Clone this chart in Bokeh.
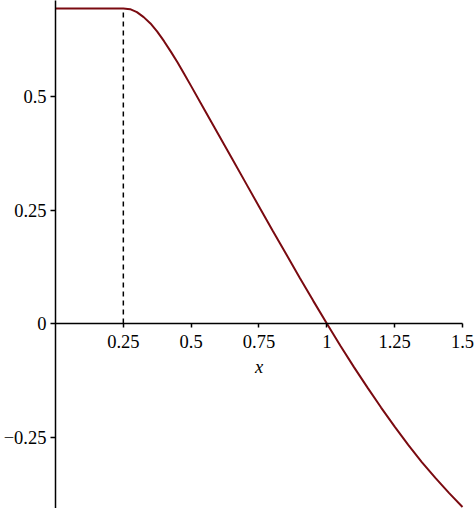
from bokeh.plotting import figure
from bokeh.models import Range1d, FixedTicker
from bokeh.embed import file_html
from bokeh.resources import INLINE

# curve values
x_vals = [0.0, 0.25, 0.275, 0.30, 0.325, 0.35, 0.375, 0.40, 0.425, 0.45, 0.475, 0.50,
          0.55, 0.60, 0.65, 0.70, 0.75, 0.80, 0.85, 0.90, 0.95, 1.00,
          1.05, 1.10, 1.15, 1.20, 1.25, 1.30, 1.35, 1.40, 1.45, 1.50]
y_vals = [0.694, 0.694, 0.6925, 0.686, 0.675, 0.661, 0.643, 0.622, 0.599, 0.575, 0.549, 0.523,
          0.470, 0.417, 0.364, 0.311, 0.258, 0.205, 0.153, 0.101, 0.050, 0.0,
          -0.049, -0.096, -0.141, -0.185, -0.227, -0.267, -0.305, -0.340, -0.373, -0.404]

# dashed marker at x = 0.25
dash_x = [0.25]
dash_y0 = [0.0]
dash_y1 = [0.694]

x_ticks = [0.25, 0.5, 0.75, 1, 1.25, 1.5]
x_tick_labels = ["0.25", "0.5", "0.75", "1", "1.25", "1.5"]
y_ticks = [-0.25, 0, 0.25, 0.5]
y_tick_labels = ["\u22120.25", "0", "0.25", "0.5"]

# 1.5 sits at px 462, frame runs to 474 so the last tick label is not clipped
p = figure(width=474, height=508, output_backend="svg", toolbar_location=None,
           x_range=Range1d(0, 419 / 271.33), y_range=Range1d(0.7116 - 508 / 454, 0.7116),
           min_border_left=55, min_border_right=0, min_border_top=0, min_border_bottom=0,
           x_axis_label="x")
p.outline_line_color = None
p.grid.visible = False

p.line(x_vals, y_vals, line_color="#7a0a10", line_width=2)
p.segment(dash_x, dash_y0, dash_x, dash_y1, line_color="black", line_width=1.5,
          line_dash="5 4")

for ax in (p.xaxis[0], p.yaxis[0]):
    ax.axis_line_color = "black"
    ax.axis_line_width = 1.5
    ax.major_tick_line_color = "black"
    ax.major_tick_line_width = 1.5
    ax.major_tick_in = 0
    ax.minor_tick_line_color = None
    ax.major_label_text_font = "Liberation Serif"
    ax.major_label_text_font_size = "18.5px"
    ax.major_label_text_color = "black"

p.xaxis.fixed_location = 0
p.xaxis.bounds = (0, 1.5)
p.xaxis.ticker = FixedTicker(ticks=x_ticks)
p.xaxis.major_label_overrides = dict(zip(x_ticks, x_tick_labels))
p.xaxis.major_tick_out = 4
p.xaxis.major_label_standoff = 7
p.xaxis.axis_label_text_font = "Liberation Serif"
p.xaxis.axis_label_text_font_style = "italic"
p.xaxis.axis_label_text_font_size = "18.5px"
p.xaxis.axis_label_text_color = "black"
p.xaxis.axis_label_standoff = 6

p.yaxis.ticker = FixedTicker(ticks=y_ticks)
p.yaxis.major_label_overrides = dict(zip(y_ticks, y_tick_labels))
p.yaxis.major_tick_out = 5
p.yaxis.major_label_standoff = 4

open("out.html", "w").write(file_html(p, INLINE))
